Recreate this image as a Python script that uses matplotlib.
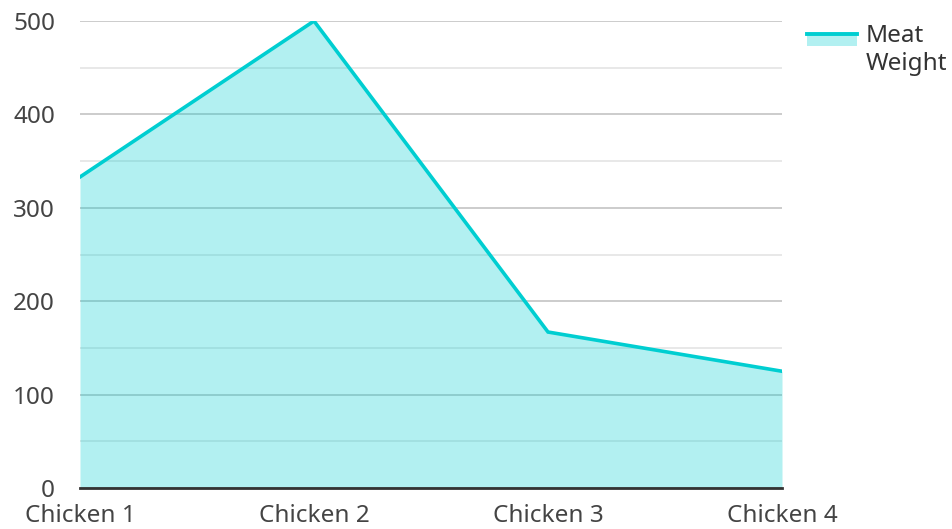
import matplotlib
matplotlib.use("Agg")
import matplotlib.pyplot as plt
from matplotlib.patches import Rectangle
from matplotlib.lines import Line2D
from matplotlib.ticker import MultipleLocator

categories = ["Chicken 1", "Chicken 2", "Chicken 3", "Chicken 4"]
meat_weight = [333, 500, 167, 125]
series_name = "Meat\nWeight"

line_color = "#00CED1"
fill_alpha = 0.3

plt.rcParams["font.family"] = ["Noto Sans", "DejaVu Sans"]

W, H = 952, 529
fig = plt.figure(figsize=(W / 100, H / 100), dpi=100)
ax = fig.add_axes([80 / W, 1 - 488 / H, (782 - 80) / W, (488 - 21) / H])

x = list(range(len(categories)))
ax.fill_between(x, meat_weight, 0, color=line_color, alpha=fill_alpha, lw=0, zorder=2)
ax.plot(x, meat_weight, color=line_color, lw=2.6, zorder=3, solid_joinstyle="miter")

ax.set_xlim(0, len(categories) - 1)
ax.set_ylim(0, 500)
ax.yaxis.set_major_locator(MultipleLocator(100))
ax.yaxis.set_minor_locator(MultipleLocator(50))
ax.set_xticks(x)
ax.set_xticklabels(categories)

ax.grid(axis="y", which="major", color="#c8c8c8", lw=1.3, zorder=1)
ax.grid(axis="y", which="minor", color="#e6e6e6", lw=1.3, zorder=1)
ax.set_axisbelow(True)
for s in ["top", "right", "left"]:
    ax.spines[s].set_visible(False)
ax.spines["bottom"].set_color("#333333")
ax.spines["bottom"].set_linewidth(2)
ax.spines["bottom"].set_zorder(4)

ax.tick_params(axis="both", which="both", length=0, labelsize=17.5, colors="#444444")
ax.tick_params(axis="y", pad=18)
ax.tick_params(axis="x", pad=11.5)

# legend (drawn outside the plot area)
fig.add_artist(Rectangle((807 / W, 1 - 46 / H), 50 / W, 12 / H,
                         transform=fig.transFigure, facecolor=line_color,
                         alpha=fill_alpha, lw=0))
fig.add_artist(Line2D([807 / W, 857 / W], [1 - 34 / H, 1 - 34 / H],
                      transform=fig.transFigure, color=line_color, lw=2.8))
fig.text(866 / W, 1 - 23.5 / H, series_name, ha="left", va="top", fontsize=17.5,
         color="#333333", linespacing=1.25)

fig.savefig("out.png", dpi=100)
